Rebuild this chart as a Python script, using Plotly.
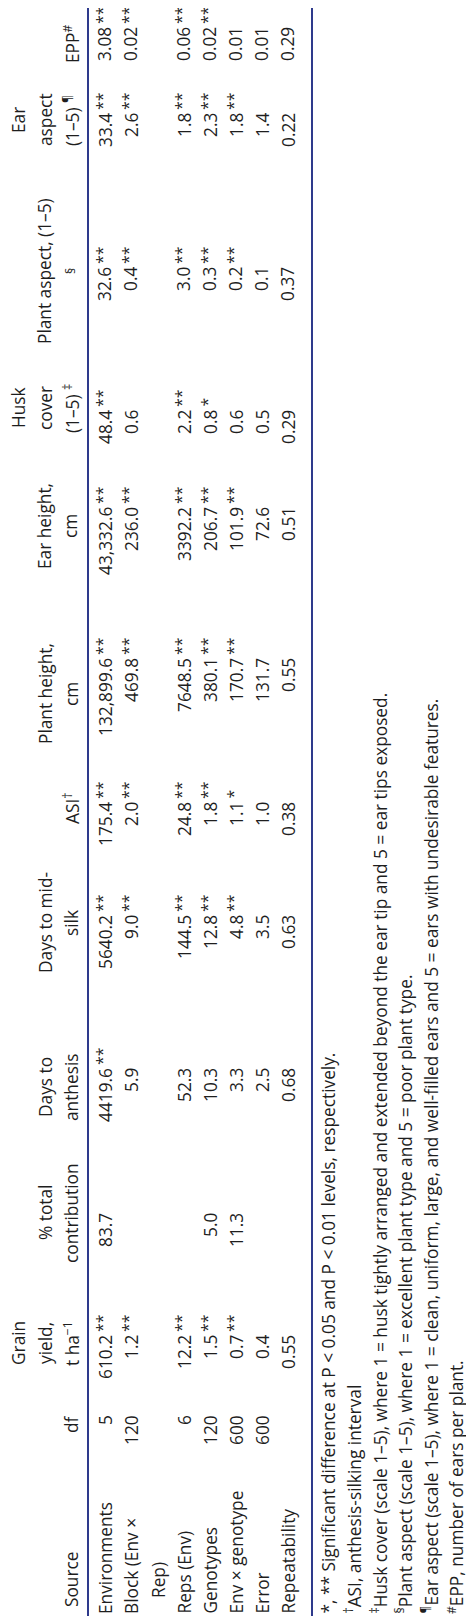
import plotly.graph_objects as go

W, H = 474, 1616

sources = ["Environments", "Block (Env ×<br>   Rep)", "Reps (Env)", "Genotypes",
           "Env × genotype", "Error", "Repeatability"]
df_vals = ["5", "120", "6", "120", "600", "600", ""]

headers = [
    ["Grain", "yield,", "t ha<sup>−1</sup>"],
    ["% total", "contribution"],
    ["Days to", "anthesis"],
    ["Days to mid-", "silk"],
    ["ASI<sup>†</sup>"],
    ["Plant height,", "cm"],
    ["Ear height,", "cm"],
    ["Husk", "cover", "(1–5) <sup>‡</sup>"],
    ["Plant aspect, (1–5)", "<sup>§</sup>"],
    ["Ear", "aspect", "(1–5) <sup>¶</sup>"],
    ["EPP<sup>#</sup>"],
]

grain_yield = ["610.2**", "1.2**", "12.2**", "1.5**", "0.7**", "0.4", "0.55"]
pct_total = ["83.7", "", "", "5.0", "11.3", "", ""]
days_anthesis = ["4419.6**", "5.9", "52.3", "10.3", "3.3", "2.5", "0.68"]
days_silk = ["5640.2**", "9.0**", "144.5**", "12.8**", "4.8**", "3.5", "0.63"]
asi = ["175.4**", "2.0**", "24.8**", "1.8**", "1.1*", "1.0", "0.38"]
plant_height = ["132,899.6**", "469.8**", "7648.5**", "380.1**", "170.7**", "131.7", "0.55"]
ear_height = ["43,332.6**", "236.0**", "3392.2**", "206.7**", "101.9**", "72.6", "0.51"]
husk_cover = ["48.4**", "0.6", "2.2**", "0.8*", "0.6", "0.5", "0.29"]
plant_aspect = ["32.6**", "0.4**", "3.0**", "0.3**", "0.2**", "0.1", "0.37"]
ear_aspect = ["33.4**", "2.6**", "1.8**", "2.3**", "1.8**", "1.4", "0.22"]
epp = ["3.08**", "0.02**", "0.06**", "0.02**", "0.01", "0.01", "0.29"]

columns = [grain_yield, pct_total, days_anthesis, days_silk, asi, plant_height,
           ear_height, husk_cover, plant_aspect, ear_aspect, epp]

footnotes = [
    "*, ** Significant difference at P < 0.05 and P < 0.01 levels, respectively.",
    "<sup>†</sup>ASI, anthesis-silking interval",
    "<sup>‡</sup>Husk cover (scale 1–5), where 1 = husk tightly arranged and extended beyond the ear tip and 5 = ear tips exposed.",
    "<sup>§</sup>Plant aspect (scale 1–5), where 1 = excellent plant type and 5 = poor plant type.",
    "<sup>¶</sup>Ear aspect (scale 1–5), where 1 = clean, uniform, large, and well-filled ears and 5 = ears with undesirable features.",
    "<sup>#</sup>EPP, number of ears per plant.",
]

# layout positions in screen pixels (x across, y down)
row_x = [97, 123, 176, 202, 228, 254, 280]
head_x = [10, 37, 63]
col_head_y = [1335, 1205, 1079, 915, 800, 686, 518, 400, 263, 112, 36]
col_num_y = [1325, 1203, 1058, 905, 792, 648, 497, 400, 257, 103, 17]
foot_x = [320, 345, 371, 396, 422, 447]
FONT = dict(family="Open Sans", size=17.3, color="#1e1e1e")
NAVY = "#2e3a8c"

ann = []


def px(x, y):
    return x / W, 1 - y / H


def add(text, x, y, yanchor, size=None):
    fx, fy = px(x, y)
    f = dict(FONT)
    if size:
        f["size"] = size
    ann.append(dict(text=text, x=fx, y=fy, xref="paper", yref="paper",
                    textangle=-90, xanchor="center", yanchor=yanchor,
                    showarrow=False, font=f))


add("Source", head_x[2], 1601, "bottom")
add("df", head_x[2], 1405, "top")
for i, s in enumerate(sources):
    if "<br>" in s:
        a, b = s.split("<br>")
        add(a, row_x[i], 1608, "bottom")
        add("Rep)", 150, 1592, "bottom")
    else:
        add(s, row_x[i], 1608, "bottom")
    if df_vals[i]:
        add(df_vals[i], row_x[i], 1405, "top")

for c, lines in enumerate(headers):
    n = len(lines)
    for k, t in enumerate(lines):
        add(t, head_x[3 - n + k], col_head_y[c], "middle")
    for i, v in enumerate(columns[c]):
        if not v:
            continue
        num = v.rstrip("*")
        stars = v[len(num):]
        add(num, row_x[i], col_num_y[c], "top")
        if stars:
            add(stars, row_x[i] - 3, col_num_y[c] + 1, "bottom", size=16)

for i, t in enumerate(footnotes):
    add(t, foot_x[i], 1608, "bottom")

fig = go.Figure()
fig.update_layout(
    width=W, height=H, margin=dict(l=0, r=0, t=0, b=0),
    paper_bgcolor="white", plot_bgcolor="white",
    xaxis=dict(visible=False, range=[0, 1]), yaxis=dict(visible=False, range=[0, 1]),
    annotations=ann,
    shapes=[
        dict(type="line", xref="paper", yref="paper", x0=80 / W, x1=80 / W, y0=0, y1=1,
             line=dict(color=NAVY, width=2)),
        dict(type="line", xref="paper", yref="paper", x0=304 / W, x1=304 / W, y0=0, y1=1,
             line=dict(color=NAVY, width=2)),
    ],
)
fig.write_html("out.html")
